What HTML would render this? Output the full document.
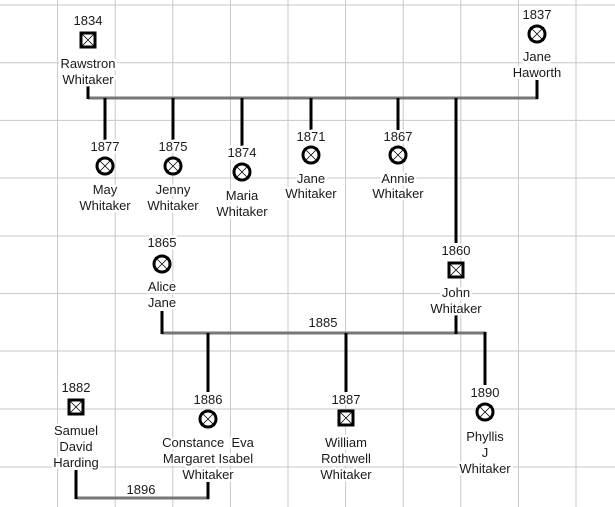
<!DOCTYPE html>
<html><head><meta charset="utf-8"><style>
html,body{margin:0;padding:0;background:#fff;width:615px;height:507px;overflow:hidden}
svg{display:block}
text{font-family:"Liberation Sans",Arial,sans-serif;font-size:13px;fill:#1a1a1a;text-anchor:middle;stroke:#fff;stroke-width:5px;paint-order:stroke;stroke-linejoin:round}
</style></head><body>
<svg width="615" height="507" viewBox="0 0 615 507">
<g stroke="#c8c8c8" stroke-width="1">
<line x1="57.6" y1="0" x2="57.6" y2="507"/><line x1="115.2" y1="0" x2="115.2" y2="507"/>
<line x1="172.8" y1="0" x2="172.8" y2="507"/><line x1="230.4" y1="0" x2="230.4" y2="507"/>
<line x1="288" y1="0" x2="288" y2="507"/><line x1="345.6" y1="0" x2="345.6" y2="507"/>
<line x1="403.2" y1="0" x2="403.2" y2="507"/><line x1="460.8" y1="0" x2="460.8" y2="507"/>
<line x1="518.4" y1="0" x2="518.4" y2="507"/><line x1="576" y1="0" x2="576" y2="507"/>
<line x1="0" y1="5" x2="615" y2="5"/><line x1="0" y1="62.7" x2="615" y2="62.7"/>
<line x1="0" y1="120.4" x2="615" y2="120.4"/><line x1="0" y1="178" x2="615" y2="178"/>
<line x1="0" y1="236" x2="615" y2="236"/><line x1="0" y1="293.5" x2="615" y2="293.5"/>
<line x1="0" y1="351" x2="615" y2="351"/><line x1="0" y1="409" x2="615" y2="409"/>
<line x1="0" y1="467" x2="615" y2="467"/>
</g>
<g stroke="#777" stroke-width="3">
<line x1="88" y1="98" x2="538" y2="98"/>
<line x1="162" y1="333" x2="486" y2="333"/>
<line x1="76" y1="498" x2="209" y2="498"/>
</g>
<g stroke="#000" stroke-width="3">
<line x1="88" y1="86" x2="88" y2="99"/>
<line x1="537" y1="80" x2="537" y2="99"/>
<line x1="105" y1="98" x2="105" y2="140"/>
<line x1="173" y1="98" x2="173" y2="140"/>
<line x1="242" y1="98" x2="242" y2="146"/>
<line x1="311" y1="98" x2="311" y2="130"/>
<line x1="398" y1="98" x2="398" y2="130"/>
<line x1="456" y1="98" x2="456" y2="243"/>
<line x1="456" y1="315" x2="456" y2="334"/>
<line x1="162" y1="311" x2="162" y2="334"/>
<line x1="208" y1="333" x2="208" y2="392"/>
<line x1="208" y1="482" x2="208" y2="499"/>
<line x1="346" y1="333" x2="346" y2="392"/>
<line x1="485" y1="332" x2="485" y2="385"/>
<line x1="76" y1="470" x2="76" y2="499"/>
</g>
<g stroke="#000" fill="#fff">
<rect x="81" y="33" width="14" height="14" stroke-width="3"/>
<rect x="449" y="263" width="14" height="14" stroke-width="3"/>
<rect x="339" y="411" width="14" height="14" stroke-width="3"/>
<rect x="69" y="400" width="14" height="14" stroke-width="3"/>
<circle cx="537" cy="34" r="8" stroke-width="3"/>
<circle cx="105" cy="166" r="8" stroke-width="3"/>
<circle cx="173" cy="166" r="8" stroke-width="3"/>
<circle cx="242" cy="172" r="8" stroke-width="3"/>
<circle cx="311" cy="155" r="8" stroke-width="3"/>
<circle cx="398" cy="155" r="8" stroke-width="3"/>
<circle cx="162" cy="264" r="8" stroke-width="3"/>
<circle cx="208" cy="419" r="8" stroke-width="3"/>
<circle cx="485" cy="412" r="8" stroke-width="3"/>
</g>
<g stroke="#000" stroke-width="0.8">
<path d="M82 34L94 46M94 34L82 46"/>
<path d="M450 264L462 276M462 264L450 276"/>
<path d="M340 412L352 424M352 412L340 424"/>
<path d="M70 401L82 413M82 401L70 413"/>
<path d="M530 27L544 41M544 27L530 41"/>
<path d="M98 159L112 173M112 159L98 173"/>
<path d="M166 159L180 173M180 159L166 173"/>
<path d="M235 165L249 179M249 165L235 179"/>
<path d="M304 148L318 162M318 148L304 162"/>
<path d="M391 148L405 162M405 148L391 162"/>
<path d="M155 257L169 271M169 257L155 271"/>
<path d="M201 412L215 426M215 412L201 426"/>
<path d="M478 405L492 419M492 405L478 419"/>
</g>
<text x="88" y="25">1834</text>
<text x="88" y="68">Rawstron</text><text x="88" y="84">Whitaker</text>
<text x="537" y="19">1837</text>
<text x="537" y="61">Jane</text><text x="537" y="77">Haworth</text>
<text x="105" y="151">1877</text><text x="105" y="194">May</text><text x="105" y="210">Whitaker</text>
<text x="173" y="151">1875</text><text x="173" y="194">Jenny</text><text x="173" y="210">Whitaker</text>
<text x="242" y="157">1874</text><text x="242" y="200">Maria</text><text x="242" y="216">Whitaker</text>
<text x="311" y="141">1871</text><text x="311" y="183">Jane</text><text x="311" y="198">Whitaker</text>
<text x="398" y="141">1867</text><text x="398" y="183">Annie</text><text x="398" y="198">Whitaker</text>
<text x="162" y="247">1865</text><text x="162" y="291">Alice</text><text x="162" y="307">Jane</text>
<text x="456" y="255">1860</text><text x="456" y="297">John</text><text x="456" y="313">Whitaker</text>
<text x="323" y="327">1885</text>
<text x="76" y="392">1882</text><text x="76" y="435">Samuel</text><text x="76" y="451">David</text><text x="76" y="467">Harding</text>
<text x="208" y="404">1886</text><text x="208" y="447">Constance&#160;&#160;Eva</text><text x="208" y="463">Margaret Isabel</text><text x="208" y="479">Whitaker</text>
<text x="346" y="404">1887</text><text x="346" y="447">William</text><text x="346" y="463">Rothwell</text><text x="346" y="479">Whitaker</text>
<text x="485" y="397">1890</text><text x="485" y="441">Phyllis</text><text x="485" y="457">J</text><text x="485" y="473">Whitaker</text>
<text x="141" y="494">1896</text>
</svg>
</body></html>
